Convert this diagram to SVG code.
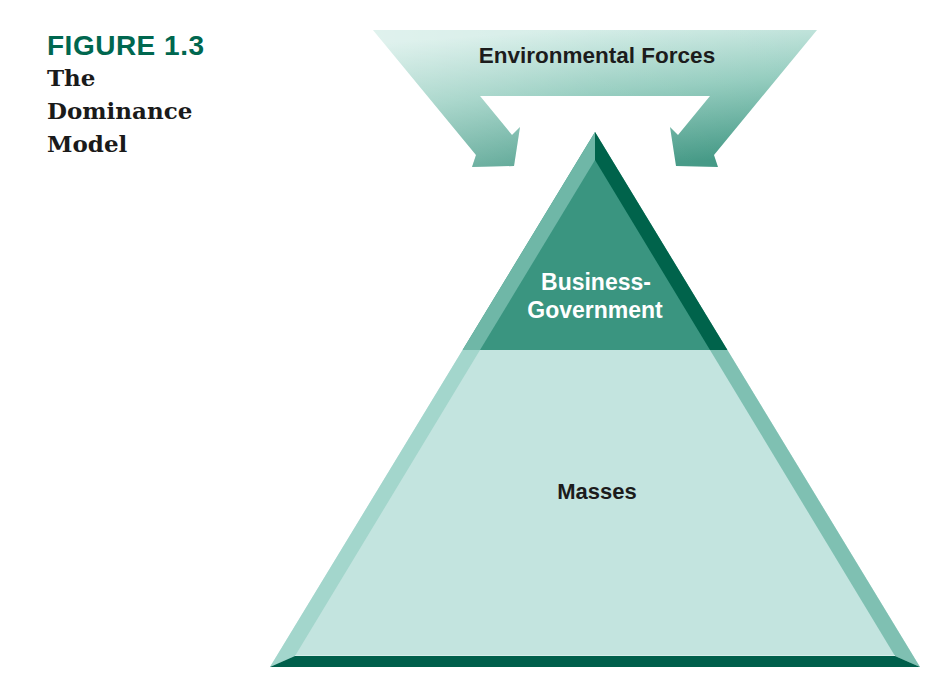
<svg xmlns="http://www.w3.org/2000/svg" width="944" height="687" viewBox="0 0 944 687">
<defs>
<linearGradient id="envGrad" gradientUnits="userSpaceOnUse" x1="590" y1="28" x2="600" y2="168">
<stop offset="0" stop-color="#d2ece6"/>
<stop offset="0.45" stop-color="#93ccbe"/>
<stop offset="1" stop-color="#3f9682"/>
</linearGradient>
<linearGradient id="envSheen" gradientUnits="userSpaceOnUse" x1="373" y1="30" x2="817" y2="30">
<stop offset="0" stop-color="#ffffff" stop-opacity="0.3"/>
<stop offset="0.5" stop-color="#ffffff" stop-opacity="0.08"/>
<stop offset="1" stop-color="#ffffff" stop-opacity="0"/>
</linearGradient>
<style>
.title{font-family:"Liberation Sans",Arial,sans-serif;font-weight:bold;font-size:28px;fill:#00674f;letter-spacing:0.5px}
.sub{font-family:"DejaVu Serif","Liberation Serif",serif;font-weight:bold;font-size:23px;fill:#1a1a1a}
.lbl{font-family:"Liberation Sans",Arial,sans-serif;font-weight:bold;text-anchor:middle}
.dark{fill:#1c1c1c}
.light{fill:#ffffff}
</style>
</defs>
<rect width="944" height="687" fill="#ffffff"/>

<g id="title">
<text class="title" x="47" y="55">FIGURE 1.3</text>
<text class="sub" x="47" y="86">The</text>
<text class="sub" x="47" y="119">Dominance</text>
<text class="sub" x="47" y="152">Model</text>
</g>

<g id="connectors"></g>

<g id="environmental-forces">
<path d="M373,30 L817,30 L714,155 L718,167 L676,166 L670,127 L678,135 L710,96 L480,96 L512,135 L520,127 L514,166 L472,167 L476,155 Z" fill="url(#envGrad)"/>
<path d="M373,30 L817,30 L714,155 L718,167 L676,166 L670,127 L678,135 L710,96 L480,96 L512,135 L520,127 L514,166 L472,167 L476,155 Z" fill="url(#envSheen)"/>
<text class="lbl dark" x="597" y="63" font-size="22.5">Environmental Forces</text>
</g>

<g id="masses">
<polygon points="462.6,350 727.4,350 920,667 270,667" fill="#c3e4df"/>
<polygon points="462.6,350 480,350 295,656 270,667" fill="#a3d6cc"/>
<polygon points="710,350 727.4,350 920,667 895,656" fill="#7fc0b2"/>
<polygon points="270,667 295,656 895,656 920,667" fill="#005f4b"/>
<line x1="295" y1="655.5" x2="895" y2="655.5" stroke="#d6eeea" stroke-width="1"/>
<text class="lbl dark" x="597" y="499" font-size="22">Masses</text>
</g>

<g id="business-government">
<polygon points="595,132 727.4,350 462.6,350" fill="#3a9580"/>
<polygon points="595,132 595,160 480,350 462.6,350" fill="#6fb7a7"/>
<polygon points="595,132 727.4,350 710,350 595,160" fill="#00634b"/>
<text class="lbl light" x="596" y="290" font-size="23">Business-</text>
<text class="lbl light" x="595" y="318" font-size="23">Government</text>
</g>
</svg>
